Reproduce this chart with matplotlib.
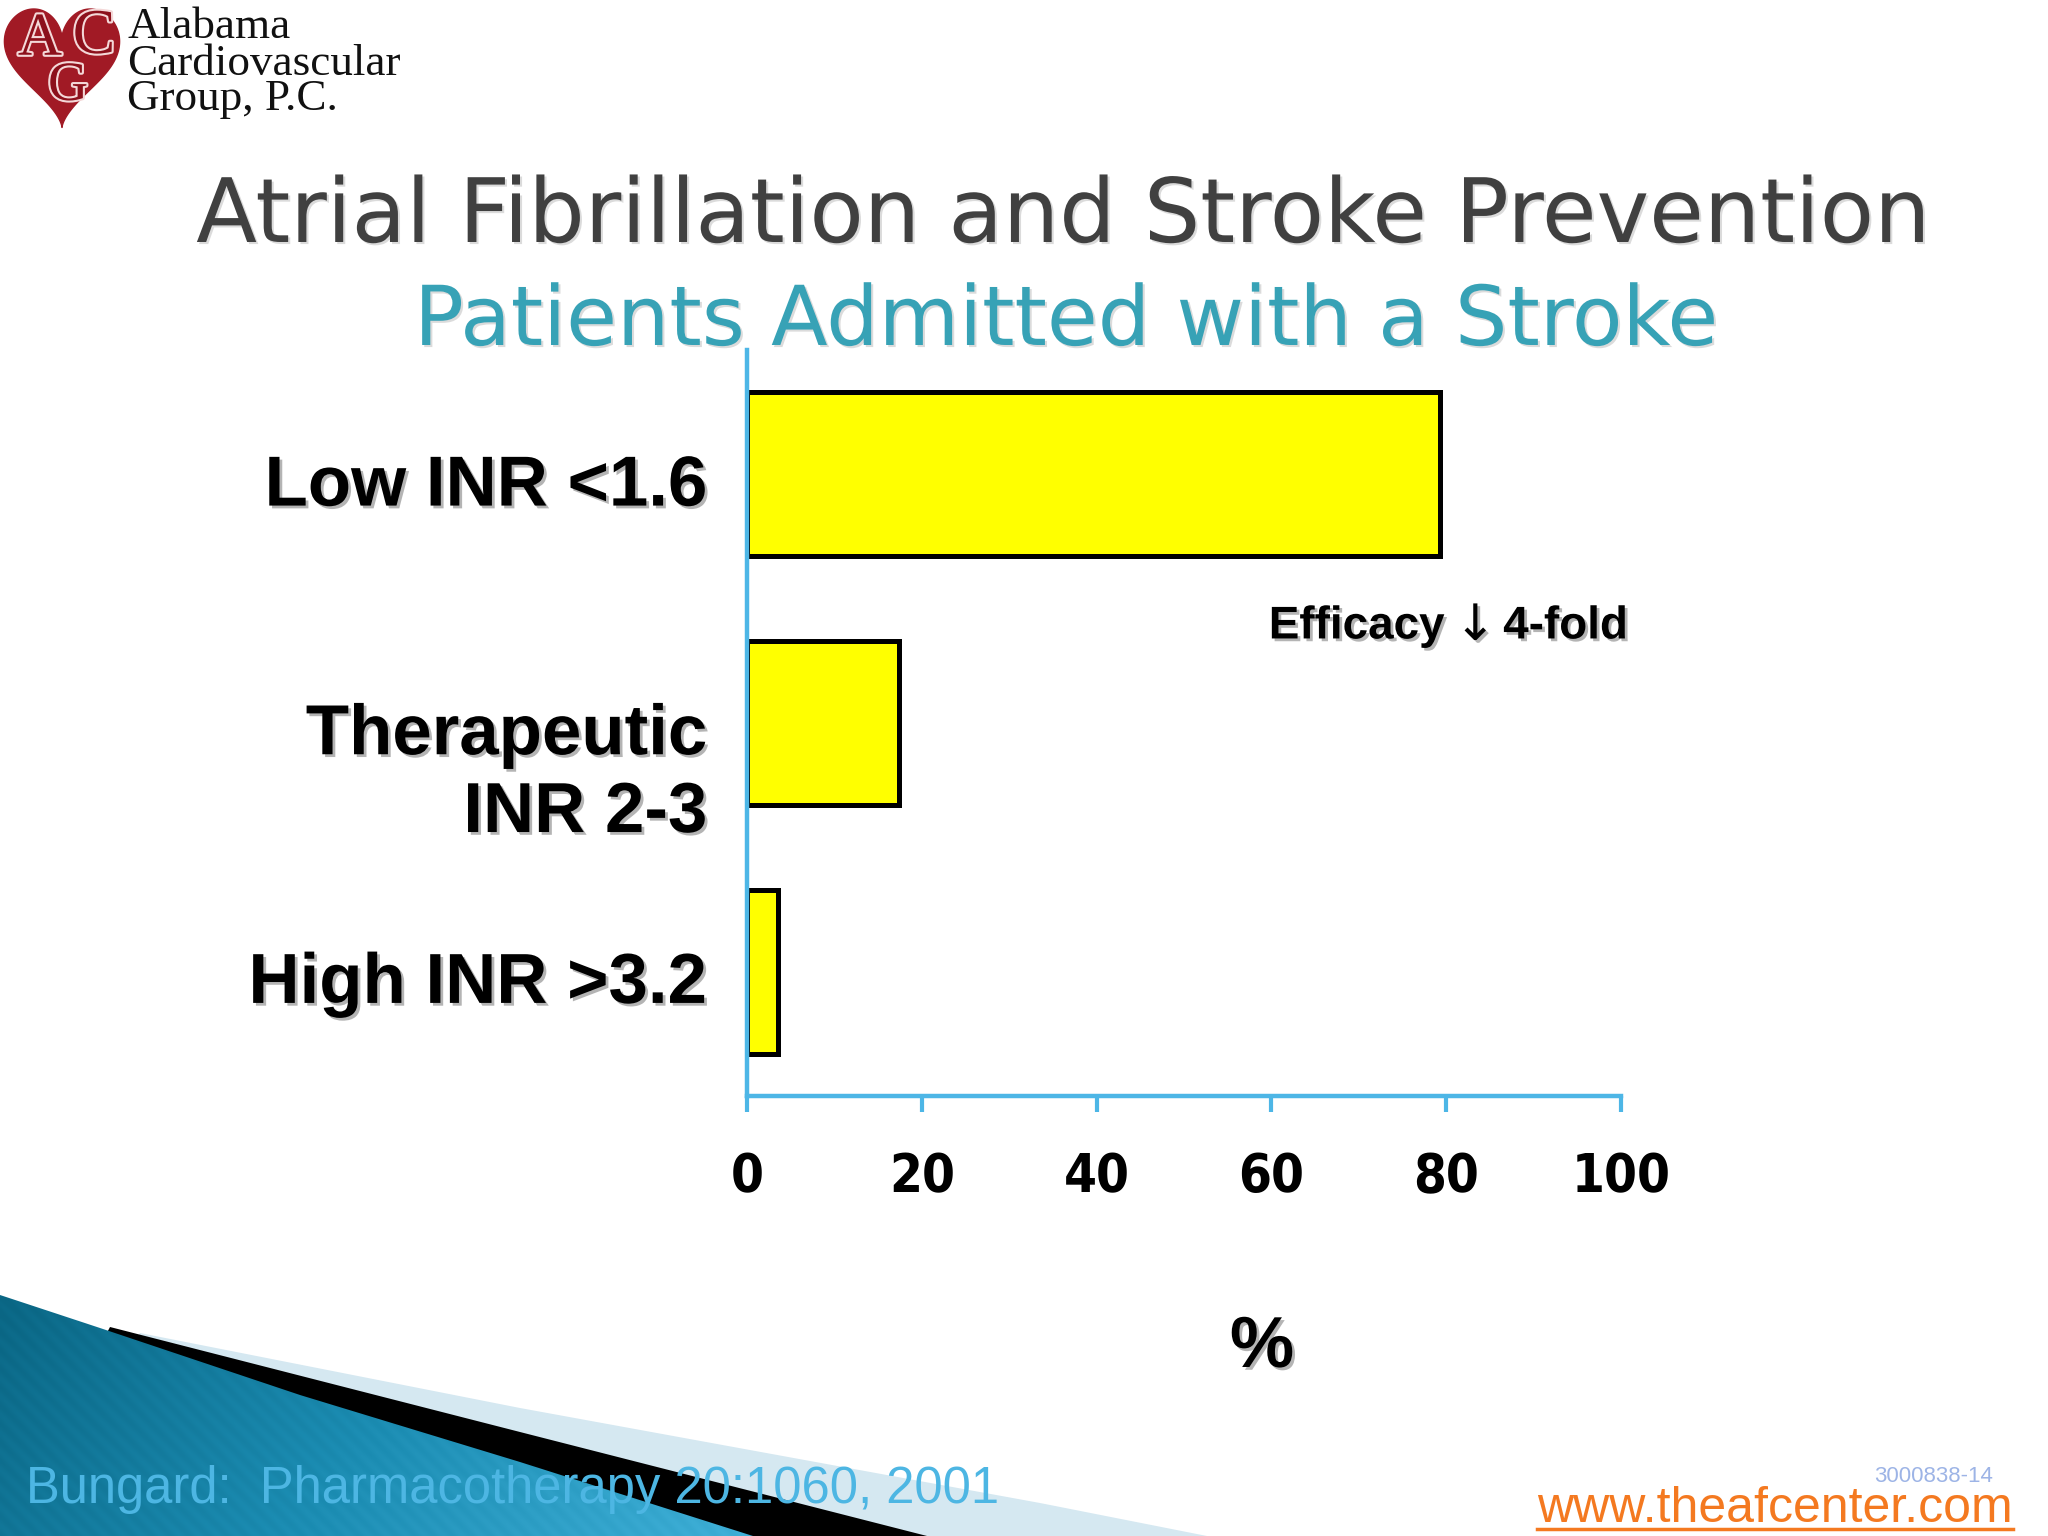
import numpy as np
import matplotlib
matplotlib.use('Agg')
import matplotlib.pyplot as plt
import matplotlib.patheffects as pe
from matplotlib import transforms
from matplotlib.patches import Polygon
from matplotlib.colors import LinearSegmentedColormap

# ── data ────────────────────────────────────────────────────────────────
CATEGORIES = ['Low INR <1.6', 'Therapeutic\nINR 2-3', 'High INR >3.2']
STROKE_PCT = [79.3, 17.4, 3.5]
X_TICKS = [0, 20, 40, 60, 80, 100]
X_TICK_LABELS = ['0', '20', '40', '60', '80', '100']

TITLE = 'Atrial Fibrillation and Stroke Prevention'
SUBTITLE = 'Patients Admitted with a Stroke'
NOTE = 'Efficacy \u2193 4-fold'
X_LABEL = '%'
CITATION = 'Bungard:  Pharmacotherapy 20:1060, 2001'
URL = 'www.theafcenter.com'
SLIDE_ID = '3000838-14'
LOGO_LINES = ['Alabama', 'Cardiovascular', 'Group, P.C.']
LOGO_LETTERS = ['A', 'C', 'G']

# ── style ───────────────────────────────────────────────────────────────
W, H = 2048, 1536
BLUE = '#4DB6E6'
SANS = ['Liberation Sans', 'DejaVu Sans']
shadow = [pe.withSimplePatchShadow(offset=(2, -2), shadow_rgbFace='#777777', alpha=0.55)]
soft_shadow = [pe.withSimplePatchShadow(offset=(1.5, -1.5), shadow_rgbFace='#999999', alpha=0.35)]

fig = plt.figure(figsize=(W / 100, H / 100), dpi=100)
fig.patch.set_facecolor('white')

# ── slide decoration (pixel coordinates, y down) ────────────────────────
bg = fig.add_axes([0, 0, 1, 1], zorder=0)
bg.set_xlim(0, W); bg.set_ylim(H, 0); bg.axis('off')

light_pts = [(140, 1333), (520, 1408), (1040, 1503), (1207, 1536), (0, 1536)]
black_pts = [(110, 1327), (520, 1432), (927, 1536), (0, 1536)]
teal_pts = [(0, 1295), (100, 1328), (300, 1395), (520, 1462), (753, 1536), (0, 1536)]
bg.add_patch(Polygon(light_pts, closed=True, facecolor='#d5e8f1', edgecolor='none', zorder=1))
bg.add_patch(Polygon(black_pts, closed=True, facecolor='black', edgecolor='none', zorder=2))
teal = Polygon(teal_pts, closed=True, facecolor='none', edgecolor='none', zorder=3)
bg.add_patch(teal)
gx, gy = np.meshgrid(np.linspace(0, 1, 400), np.linspace(0, 1, 160))
grad = 0.8 * gx + 0.2 * gy + 0.03 * np.sin((gx * 760 - gy * 250) / 3.0)
teal_cmap = LinearSegmentedColormap.from_list('teal', ['#0a6684', '#1b8cb2', '#3fb0d8'])
im = bg.imshow(grad, cmap=teal_cmap, extent=(0, 760, 1536, 1290), aspect='auto',
               vmin=0, vmax=1, interpolation='bilinear', zorder=4)
im.set_clip_path(teal)
bg.set_xlim(0, W); bg.set_ylim(H, 0)

# logo heart
t = np.linspace(0, 2 * np.pi, 400)
hx = 16 * np.sin(t) ** 3
hy = 13 * np.cos(t) - 5 * np.cos(2 * t) - 2 * np.cos(3 * t) - np.cos(4 * t)
bg.fill(62 + hx * 3.6, 9 + (hy.max() - hy) * 4.1, color='#a11a25', zorder=5)
for letter, (lx, ly, fs) in zip(LOGO_LETTERS, [(40, 40, 44), (94, 38, 46), (68, 86, 40)]):
    bg.text(lx, ly, letter, fontsize=fs, family='Liberation Serif', color='#8c101b',
            ha='center', va='center', zorder=6,
            path_effects=[pe.Stroke(linewidth=3, foreground='#f4d8d8'), pe.Normal()])
for line, base in zip(LOGO_LINES, [38, 75, 110]):
    fig.text(127 / W, 1 - base / H, line, fontsize=32.5, family='Liberation Serif',
             color='#111111', ha='left', va='baseline')

# ── titles ──────────────────────────────────────────────────────────────
fig.text(0.5195, 1 - 242 / H, TITLE, fontsize=64, family='DejaVu Sans', color='#404040',
         ha='center', va='baseline', path_effects=soft_shadow)
fig.text(0.5205, 1 - 345 / H, SUBTITLE, fontsize=59.5, family='DejaVu Sans', color='#37a2b6',
         ha='center', va='baseline', path_effects=soft_shadow)

# ── chart ───────────────────────────────────────────────────────────────
ax = fig.add_axes([747 / W, 1 - 1096 / H, 874 / W, 746 / H], zorder=2)
ax.patch.set_alpha(0)
y = np.arange(len(CATEGORIES))
ax.barh(y, STROKE_PCT, height=0.66, color='#FFFF00', edgecolor='black', linewidth=3.6, zorder=1)
ax.set_xlim(0, 100)
ax.set_ylim(len(CATEGORIES) - 0.5, -0.5)

for side in ['top', 'right']:
    ax.spines[side].set_visible(False)
for side in ['left', 'bottom']:
    ax.spines[side].set_color(BLUE)
    ax.spines[side].set_linewidth(3.2)
    ax.spines[side].set_zorder(3)

ax.set_yticks([])
ax.set_xticks(X_TICKS)
ax.set_xticklabels(X_TICK_LABELS, family='DejaVu Sans', fontstretch='condensed',
                   fontweight='bold', fontsize=38)
ax.tick_params(axis='x', direction='out', length=11.5, width=3, color=BLUE, pad=28)

# category labels, one text per line so the first baseline sits by the bar
blend = transforms.blended_transform_factory(ax.transAxes, ax.transData)
for i, lab in enumerate(CATEGORIES):
    for j, line in enumerate(lab.split('\n')):
        tr = transforms.offset_copy(blend, fig=fig, x=0, y=-22.5 - 56 * j, units='points')
        ax.text(-0.045, y[i], line, transform=tr, ha='right', va='baseline',
                fontsize=51, fontweight='bold', family=SANS, color='black',
                path_effects=shadow)

# note, the arrow is set in DejaVu for a full-height glyph
parts = NOTE.split(' ')
n1 = ax.text(59.7, 0.66, parts[0], ha='left', va='baseline', fontsize=33, fontweight='bold',
             family=SANS, color='black', path_effects=shadow)
n2 = ax.annotate(parts[1], xy=(1, 0), xycoords=n1, xytext=(7, -1), textcoords='offset points',
                 ha='left', va='bottom', fontsize=36, family='DejaVu Sans', color='black',
                 path_effects=shadow)
ax.annotate(parts[2], xy=(1, 0), xycoords=n2, xytext=(5, 1), textcoords='offset points',
            ha='left', va='bottom', fontsize=33, fontweight='bold', family=SANS, color='black',
            path_effects=shadow)

fig.text(1262 / W, 1 - 1367 / H, X_LABEL, ha='center', va='baseline', fontsize=52,
         fontweight='bold', family=SANS, color='black', path_effects=shadow)

# ── footer ──────────────────────────────────────────────────────────────
fig.text(26 / W, 1 - 1503 / H, CITATION, fontsize=36.5, family=SANS, color='#4db6e3',
         ha='left', va='baseline', zorder=5)
url = fig.text(1537 / W, 1 - 1522 / H, URL, fontsize=36, family=SANS, color='#F47920',
               ha='left', va='baseline')
fig.text(1874 / W, 1 - 1482 / H, SLIDE_ID, fontsize=16, family=SANS, color='#9db4e6',
         ha='left', va='baseline')

fig.canvas.draw()
bb = url.get_window_extent()
bg.plot([bb.x0, bb.x1], [H - bb.y0 - 3, H - bb.y0 - 3], color='#F47920', linewidth=2.5, zorder=6)

fig.savefig('out.png', dpi=100, facecolor='white')
plt.close(fig)
